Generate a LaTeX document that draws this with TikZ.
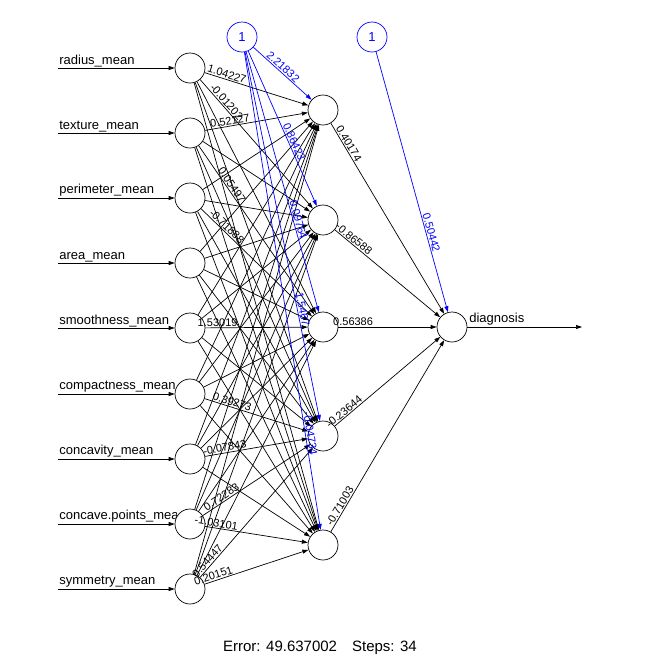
\documentclass[tikz,border=0pt]{standalone}
\usepackage{fontspec}
\setmainfont{Liberation Sans}
\usetikzlibrary{arrows.meta}
\begin{document}
\begin{tikzpicture}[x=1pt,y=-1pt,line width=0.7pt,
  neuron/.style={circle,draw,fill=white,minimum size=30pt,inner sep=0pt},
  biasn/.style={circle,draw=blue,fill=white,text=blue,minimum size=30pt,inner sep=0pt,font=\fontsize{13}{14}\selectfont},
  arr/.style={-{Triangle[length=6pt,width=4pt]}},
  wl/.style={font=\fontsize{11}{12}\selectfont,sloped,above,inner sep=1pt},
  inl/.style={font=\fontsize{13}{14}\selectfont,anchor=south west,inner sep=1pt}]
\useasboundingbox (0,0) rectangle (648,657);
\begin{scope}
\clip (0,0) rectangle (176,657);
\foreach \i/\y/\t in {1/68/radius\_mean,2/133/texture\_mean,3/198/perimeter\_mean,4/263/area\_mean,5/328/smoothness\_mean,6/394/compactness\_mean,7/459/concavity\_mean,8/524/concave.points\_mean,9/589/symmetry\_mean}{
  \node[inl] (l\i) at (58,\y) {\t};
}
\end{scope}
\foreach \i/\y in {1/68,2/133,3/198,4/263,5/328,6/394,7/459,8/524,9/589}{
  \coordinate (s\i) at (58,\y);
  \node[neuron] (i\i) at (190,\y) {};
  \draw[arr] (s\i) -- (i\i);
}
\foreach \j/\y in {1/110,2/220,3/327,4/436,5/545}{
  \node[neuron] (h\j) at (323,\y) {};
}
\node[neuron] (o) at (452,327) {};
\node[biasn] (b1) at (242,37) {1};
\node[biasn] (b2) at (372,37) {1};
\foreach \i in {1,...,9}{\foreach \j in {1,...,5}{\draw[arr] (i\i) -- (h\j);}}
\path (i1) -- (h1) node[wl,pos=0.2] {1.04227};
\path (i1) -- (h2) node[wl,pos=0.2] {-0.01202};
\path (i2) -- (h1) node[wl,pos=0.25] {0.52127};
\path (i2) -- (h3) node[wl,pos=0.25] {0.05497};
\path (i3) -- (h3) node[wl,pos=0.2] {-0.71888};
\path (i5) -- (h3) node[wl,pos=0.12] {1.53019};
\path (i6) -- (h4) node[wl,pos=0.25] {0.39273};
\path (i7) -- (h4) node[wl,pos=0.2] {-0.07843};
\path (i8) -- (h4) node[wl,pos=0.2] {0.72283};
\path (i8) -- (h5) node[wl,pos=0.1] {-1.03101};
\path (i9) -- (h5) node[wl,pos=0.1] {0.20151};
\path (i9) -- (h4) node[wl,pos=0.1] {0.54447};
\foreach \j/\w/\p in {1/2.21832/0.45,2/0.86423/0.6,3/0.09764/0.65,4/1.5467/0.7,5/-0.04734/0.8}{
  \draw[arr,blue] (b1) -- (h\j) node[wl,pos=\p,text=blue] {\w};
}
\draw[arr,blue] (b2) -- (o) node[wl,pos=0.7,text=blue] {0.50442};
\draw[arr] (h1) -- (o) node[wl,pos=0.12] {0.40174};
\draw[arr] (h2) -- (o) node[wl,pos=0.15] {-0.86588};
\draw[arr] (h3) -- (o) node[wl,pos=0.15] {0.56386};
\draw[arr] (h4) -- (o) node[wl,pos=0.12] {-0.23644};
\draw[arr] (h5) -- (o) node[wl,pos=0.12] {-0.71003};
\coordinate (out) at (582,327);
\draw[arr] (o) -- (out);
\node[inl] (dl) at (468,327) {diagnosis};
\node[font=\fontsize{15}{16}\selectfont] (err) at (320,648) {Error: 49.637002\quad Steps: 34};
\end{tikzpicture}
\end{document}
